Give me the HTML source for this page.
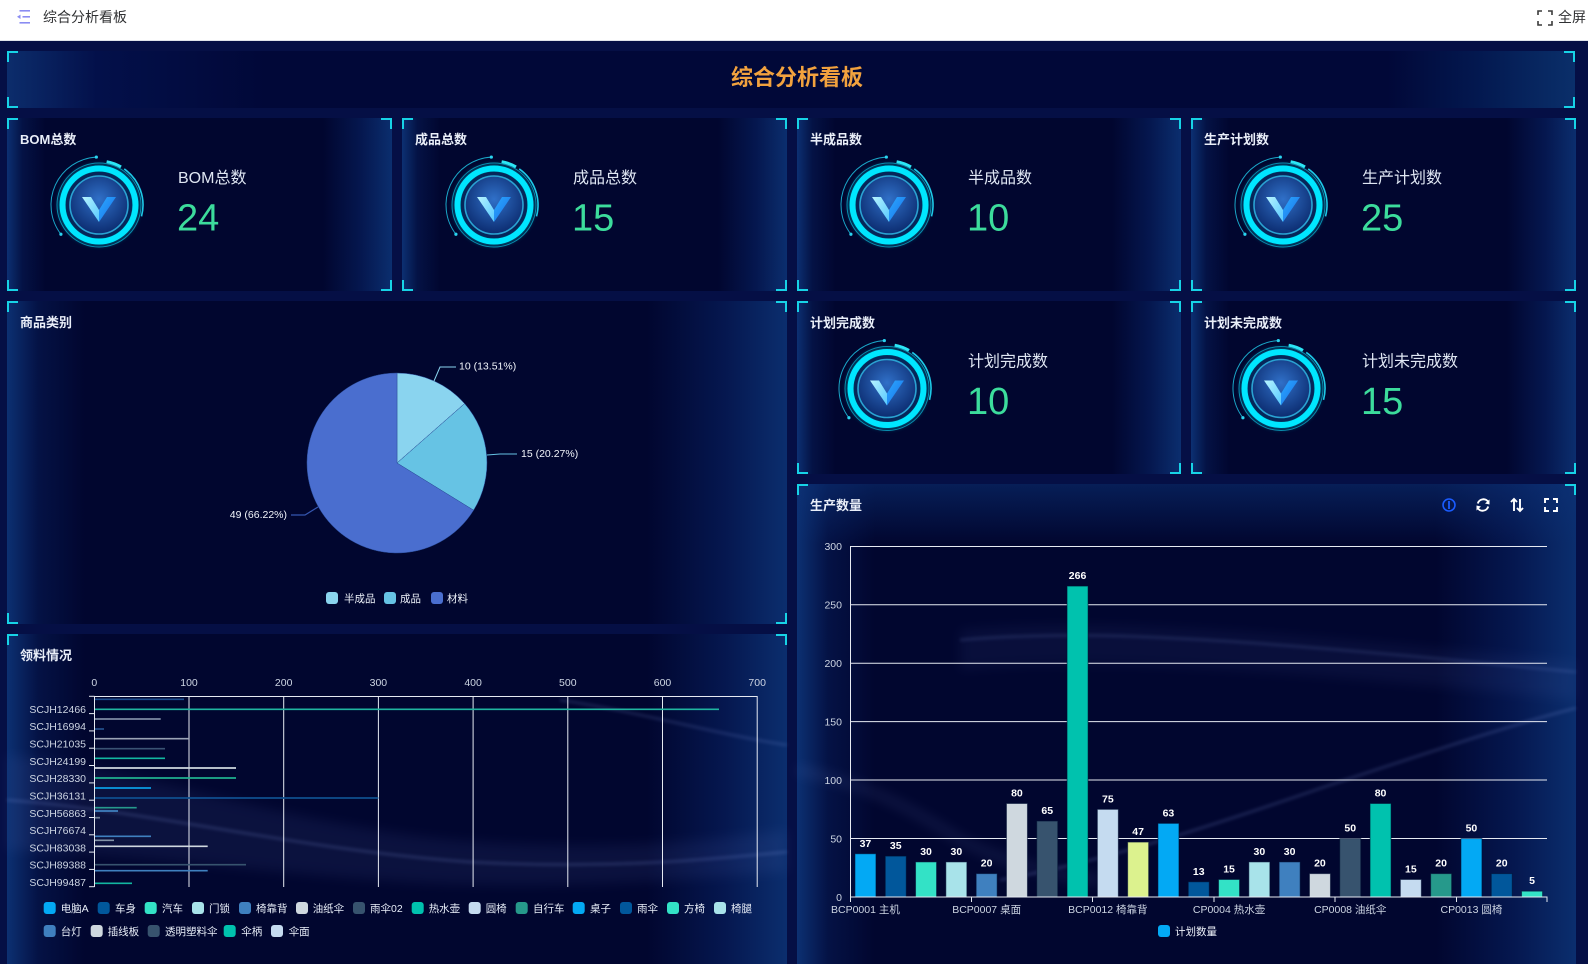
<!DOCTYPE html>
<html><head><meta charset="utf-8"><title>综合分析看板</title>
<style>
*{margin:0;padding:0;box-sizing:border-box}
body{width:1588px;height:949px;overflow:hidden;background:#050f45;font-family:"Liberation Sans","Noto Sans CJK SC",sans-serif;position:relative}
.top{position:absolute;left:0;top:0;width:1588px;height:41px;background:#fff;border-bottom:1px solid #dfe3ea}
.top .ttl{position:absolute;left:43px;top:8px;font-size:14px;line-height:18px;color:#303133}
.top .fs{position:absolute;left:1558px;top:8px;font-size:14px;line-height:18px;color:#303133}
.card{position:absolute;background:linear-gradient(90deg,#0c3072 0%,#041245 4%,#01062f 10%,#01062f 82%,#05174f 92%,#0b2e6e 100%)}
.c{position:absolute;width:11px;height:11px;border:0 solid #17d3e6}
.tl{left:0;top:0;border-left-width:2px;border-top-width:2px}
.tr{right:0;top:0;border-right-width:2px;border-top-width:2px}
.bl{left:0;bottom:0;border-left-width:2px;border-bottom-width:2px}
.br{right:0;bottom:0;border-right-width:2px;border-bottom-width:2px}
svg{position:absolute;left:0;top:0}
text{font-family:"Liberation Sans","Noto Sans CJK SC",sans-serif}
</style></head><body>

<div class="top">
  <svg width="40" height="40" style="left:0;top:0">
    <rect x="19.5" y="10" width="10.5" height="1.6" fill="#8a8cf2"/>
    <rect x="22.5" y="16" width="7.5" height="1.6" fill="#8a8cf2"/>
    <polygon points="17,16.8 20.5,14.6 20.5,19" fill="#8a8cf2"/>
    <rect x="19.5" y="22" width="10.5" height="1.6" fill="#8a8cf2"/>
  </svg>
  <div class="ttl">综合分析看板</div>
  <svg width="20" height="40" style="left:1535px;top:0">
    <path d="M3,15 V11 H7 M13,11 H17 V15 M17,21 V25 H13 M7,25 H3 V21" fill="none" stroke="#3a3a3a" stroke-width="1.6"/>
  </svg>
  <div class="fs">全屏</div>
</div>

<!-- title panel -->
<div class="card" style="left:7px;top:51px;width:1568px;height:57px;background:linear-gradient(90deg,#0c2d6c 0,#03104a 90px,#010838 260px,#010838 1380px,#03184f 1470px,#0a2f6a 100%)">
  <div class="c tl"></div><div class="c tr"></div><div class="c bl"></div><div class="c br"></div>
</div>

<!-- row 1 -->
<div class="card" style="left:7px;top:118px;width:385px;height:173px"><div class="c tl"></div><div class="c tr"></div><div class="c bl"></div><div class="c br"></div></div>
<div class="card" style="left:402px;top:118px;width:385px;height:173px"><div class="c tl"></div><div class="c tr"></div><div class="c bl"></div><div class="c br"></div></div>
<div class="card" style="left:797px;top:118px;width:384px;height:173px"><div class="c tl"></div><div class="c tr"></div><div class="c bl"></div><div class="c br"></div></div>
<div class="card" style="left:1191px;top:118px;width:385px;height:173px"><div class="c tl"></div><div class="c tr"></div><div class="c bl"></div><div class="c br"></div></div>

<!-- row 2 -->
<div class="card" style="left:7px;top:301px;width:780px;height:323px"><div class="c tl"></div><div class="c tr"></div><div class="c bl"></div><div class="c br"></div></div>
<div class="card" style="left:797px;top:301px;width:384px;height:173px"><div class="c tl"></div><div class="c tr"></div><div class="c bl"></div><div class="c br"></div></div>
<div class="card" style="left:1191px;top:301px;width:385px;height:173px"><div class="c tl"></div><div class="c tr"></div><div class="c bl"></div><div class="c br"></div></div>

<!-- row 3 -->
<div class="card" style="left:7px;top:634px;width:780px;height:330px"><div class="c tl"></div><div class="c tr"></div></div>
<div class="card" style="left:797px;top:484px;width:779px;height:480px;background:linear-gradient(180deg,rgba(12,50,120,.55) 0,rgba(12,50,120,0) 60px),linear-gradient(90deg,#0c3072 0%,#041245 4%,#01062f 10%,#01062f 82%,#05174f 92%,#0b2e6e 100%)"><div class="c tl"></div><div class="c tr"></div></div>

<!-- waves -->
<svg width="1588" height="949">
  <defs>
    <filter id="bl" x="-10%" y="-50%" width="120%" height="200%"><feGaussianBlur stdDeviation="6"/></filter>
    <filter id="bl2" x="-10%" y="-50%" width="120%" height="200%"><feGaussianBlur stdDeviation="1.5"/></filter>
  </defs>
  <path d="M7,755 C150,770 300,830 480,842 C630,852 720,838 787,830 L787,872 C700,878 600,888 450,884 C300,878 150,855 7,850 Z" fill="#6f86d8" opacity="0.09" filter="url(#bl)"/>
  <path d="M7,800 C160,812 300,850 470,862 C620,870 720,858 787,852" fill="none" stroke="#8fa4ee" stroke-width="3" opacity="0.18" filter="url(#bl2)"/>
  <path d="M560,700 C640,712 720,735 787,745" fill="none" stroke="#8fa4ee" stroke-width="3" opacity="0.16" filter="url(#bl2)"/>
  <path d="M797,770 C850,780 900,800 960,840 C1000,860 1050,875 1100,880" fill="none" stroke="#8fa4ee" stroke-width="8" opacity="0.12" filter="url(#bl)"/>
  <path d="M1000,880 C1100,862 1200,830 1330,785 C1430,752 1510,725 1576,708" fill="none" stroke="#8fa4ee" stroke-width="3" opacity="0.18" filter="url(#bl2)"/>
  <path d="M960,640 C1100,628 1250,640 1576,672" fill="none" stroke="#8fa4ee" stroke-width="3" opacity="0.14" filter="url(#bl2)"/>
  <path d="M960,630 C1100,618 1250,630 1576,662 L1576,700 C1300,672 1100,655 960,670 Z" fill="#6f86d8" opacity="0.07" filter="url(#bl)"/>
</svg>

<!-- content -->
<svg width="1588" height="949">
  <defs>
    <radialGradient id="gIn" cx="50%" cy="40%" r="60%">
      <stop offset="0" stop-color="#3070c8"/><stop offset="1" stop-color="#0c2c70"/>
    </radialGradient>
    <linearGradient id="vL" x1="0" y1="0" x2="1" y2="1"><stop offset="0" stop-color="#b8f4ff"/><stop offset="1" stop-color="#57c9ff"/></linearGradient>
    <linearGradient id="vR" x1="0" y1="0" x2="1" y2="1"><stop offset="0" stop-color="#2aa8ff"/><stop offset="1" stop-color="#1a6fe8"/></linearGradient>
    <filter id="glow" x="-30%" y="-30%" width="160%" height="160%"><feGaussianBlur stdDeviation="2"/></filter>
    <symbol id="kpi" viewBox="-50 -50 100 100">
      <circle r="42" fill="none" stroke="#0c8fb0" stroke-width="1" opacity="0.9"/>
      <path d="M-38.08,29.22 A48,48 0 0 1 -2.68,-47.93" fill="none" stroke="#1aa7c8" stroke-width="1"/>
      <circle cx="-38.08" cy="29.22" r="1.6" fill="#2ad4f0"/>
      <circle cx="-2.68" cy="-47.93" r="1.6" fill="#2ad4f0"/>
      <path d="M7.64,-43.33 A44,44 0 0 1 22,-38.1" fill="none" stroke="#2ee6f5" stroke-width="3"/>
      <path d="M25.24,-36.04 A44,44 0 0 1 42.5,11.39" fill="none" stroke="#1fc8e6" stroke-width="1.6"/>
      <circle r="36.5" fill="none" stroke="#00e8ff" stroke-width="9" opacity="0.35" filter="url(#glow)"/>
      <circle r="33" fill="#06265a"/>
      <circle r="36.5" fill="none" stroke="#00e6ff" stroke-width="6"/>
      <circle r="29" fill="url(#gIn)" stroke="#2aa2d2" stroke-width="1.6"/>
      <polygon points="-17,-8 -8,-8 0,5 0,17" fill="url(#vL)"/>
      <polygon points="0,17 0,5 8,-8 17,-8" fill="url(#vR)"/>
    </symbol>
  </defs>

  <!-- main title -->
  <text x="797" y="85" text-anchor="middle" font-size="22" font-weight="bold" fill="#f2a23e">综合分析看板</text>

  <!-- KPI cards -->
  <g fill="#e9eef8" font-size="13" font-weight="bold">
    <text x="20" y="143.8">BOM总数</text>
    <text x="415" y="143.8">成品总数</text>
    <text x="810" y="143.8">半成品数</text>
    <text x="1204" y="143.8">生产计划数</text>
    <text x="810" y="327.3">计划完成数</text>
    <text x="1204" y="327.3">计划未完成数</text>
    <text x="20" y="327">商品类别</text>
    <text x="20" y="660">领料情况</text>
    <text x="810" y="510">生产数量</text>
  </g>
  <use href="#kpi" x="49" y="155" width="100" height="100"/>
  <use href="#kpi" x="444" y="155" width="100" height="100"/>
  <use href="#kpi" x="839" y="155" width="100" height="100"/>
  <use href="#kpi" x="1233" y="155" width="100" height="100"/>
  <use href="#kpi" x="837" y="338.5" width="100" height="100"/>
  <use href="#kpi" x="1231" y="338.5" width="100" height="100"/>
  <g fill="#dfe6f3" font-size="16">
    <text x="178" y="183">BOM总数</text>
    <text x="573" y="183">成品总数</text>
    <text x="968" y="183">半成品数</text>
    <text x="1362" y="183">生产计划数</text>
    <text x="968" y="366.5">计划完成数</text>
    <text x="1362" y="366.5">计划未完成数</text>
  </g>
  <g fill="#3cdc9c" font-size="38">
    <text x="177" y="230.6">24</text>
    <text x="572" y="230.6">15</text>
    <text x="967" y="230.6">10</text>
    <text x="1361" y="230.6">25</text>
    <text x="967" y="414">10</text>
    <text x="1361" y="414">15</text>
  </g>

  <!-- pie -->
  <path d="M397,463 L397,373 A90,90 0 0 1 464.6,403.6 Z" fill="#8ad4ef" stroke="#2a4d9a" stroke-width="0.5"/>
  <path d="M397,463 L464.6,403.6 A90,90 0 0 1 473.6,510.2 Z" fill="#66c3e4" stroke="#2a4d9a" stroke-width="0.5"/>
  <path d="M397,463 L473.6,510.2 A90,90 0 1 1 397,373 Z" fill="#4a6ecf" stroke="#2a4d9a" stroke-width="0.5"/>
  <polyline points="434,381 440,367 456,367" fill="none" stroke="#8ad4ef" stroke-width="1"/>
  <polyline points="487,455 500,454 517,454" fill="none" stroke="#66c3e4" stroke-width="1"/>
  <polyline points="318,507 305,515 291,515" fill="none" stroke="#3556b0" stroke-width="1.2"/>
  <g fill="#f2f5fb" font-size="10.5">
    <text x="459" y="369.5">10 (13.51%)</text>
    <text x="521" y="457">15 (20.27%)</text>
    <text x="287" y="518" text-anchor="end">49 (66.22%)</text>
  </g>
  <rect x="326" y="592" width="12" height="12" rx="3" fill="#8ad4ef"/>
  <rect x="384" y="592" width="12" height="12" rx="3" fill="#66c3e4"/>
  <rect x="431" y="592" width="12" height="12" rx="3" fill="#4a6ecf"/>
  <g fill="#eef2fa" font-size="10.5">
    <text x="344" y="602">半成品</text>
    <text x="400" y="602">成品</text>
    <text x="447" y="602">材料</text>
  </g>

  <!-- horizontal bar chart -->
  <g stroke="#e6eaf2" stroke-width="1">
    <line x1="94.3" y1="696.5" x2="757.2" y2="696.5"/>
    <line x1="94.5" y1="696" x2="94.5" y2="887"/>
    <line x1="189" y1="696" x2="189" y2="887"/>
    <line x1="283.7" y1="696" x2="283.7" y2="887"/>
    <line x1="378.4" y1="696" x2="378.4" y2="887"/>
    <line x1="473.1" y1="696" x2="473.1" y2="887"/>
    <line x1="567.8" y1="696" x2="567.8" y2="887"/>
    <line x1="662.5" y1="696" x2="662.5" y2="887"/>
    <line x1="757.2" y1="696" x2="757.2" y2="887"/>
    <line x1="89" y1="696.3" x2="94.5" y2="696.3"/>
    <line x1="89" y1="713.6" x2="94.5" y2="713.6"/>
    <line x1="89" y1="730.9" x2="94.5" y2="730.9"/>
    <line x1="89" y1="748.2" x2="94.5" y2="748.2"/>
    <line x1="89" y1="765.5" x2="94.5" y2="765.5"/>
    <line x1="89" y1="782.9" x2="94.5" y2="782.9"/>
    <line x1="89" y1="800.2" x2="94.5" y2="800.2"/>
    <line x1="89" y1="817.5" x2="94.5" y2="817.5"/>
    <line x1="89" y1="834.8" x2="94.5" y2="834.8"/>
    <line x1="89" y1="852.1" x2="94.5" y2="852.1"/>
    <line x1="89" y1="869.4" x2="94.5" y2="869.4"/>
    <line x1="89" y1="886.7" x2="94.5" y2="886.7"/>
  </g>
  <g fill="#cdd5e3" font-size="10.5" text-anchor="middle">
    <text x="94.3" y="686">0</text>
    <text x="189" y="686">100</text>
    <text x="283.7" y="686">200</text>
    <text x="378.4" y="686">300</text>
    <text x="473.1" y="686">400</text>
    <text x="567.8" y="686">500</text>
    <text x="662.5" y="686">600</text>
    <text x="757.2" y="686">700</text>
  </g>
  <g fill="#cdd5e3" font-size="10.5" text-anchor="end">
    <text x="86" y="712.9">SCJH12466</text>
    <text x="86" y="730.2">SCJH16994</text>
    <text x="86" y="747.5">SCJH21035</text>
    <text x="86" y="764.8">SCJH24199</text>
    <text x="86" y="782.2">SCJH28330</text>
    <text x="86" y="799.5">SCJH36131</text>
    <text x="86" y="816.8">SCJH56863</text>
    <text x="86" y="834.1">SCJH76674</text>
    <text x="86" y="851.4">SCJH83038</text>
    <text x="86" y="868.7">SCJH89388</text>
    <text x="86" y="886">SCJH99487</text>
  </g>
  <g stroke-width="1.7">
    <line x1="95" y1="699.3" x2="184" y2="699.3" stroke="#1d4d8e"/>
    <line x1="95" y1="709.3" x2="719" y2="709.3" stroke="#1fb5a0"/>
    <line x1="95" y1="719" x2="160.7" y2="719" stroke="#7d8ba3"/>
    <line x1="95" y1="729" x2="104" y2="729" stroke="#244f8c"/>
    <line x1="95" y1="738.7" x2="188.3" y2="738.7" stroke="#9aa3b5"/>
    <line x1="95" y1="748.7" x2="165" y2="748.7" stroke="#3a5373"/>
    <line x1="95" y1="758.3" x2="165" y2="758.3" stroke="#12b6a0"/>
    <line x1="95" y1="768" x2="236" y2="768" stroke="#cfd8df"/>
    <line x1="95" y1="778" x2="236" y2="778" stroke="#1fb08f"/>
    <line x1="95" y1="788" x2="151" y2="788" stroke="#0a9de3"/>
    <line x1="95" y1="798" x2="378.3" y2="798" stroke="#0f4f8f"/>
    <line x1="95" y1="807.7" x2="136.7" y2="807.7" stroke="#26998b"/>
    <line x1="95" y1="811" x2="118" y2="811" stroke="#3f80bf"/>
    <line x1="95" y1="817.7" x2="100" y2="817.7" stroke="#6f7f92"/>
    <line x1="95" y1="836.3" x2="151" y2="836.3" stroke="#3f80bf"/>
    <line x1="95" y1="840.3" x2="114" y2="840.3" stroke="#8494a8"/>
    <line x1="95" y1="846.3" x2="207.7" y2="846.3" stroke="#cfd8df"/>
    <line x1="95" y1="864.7" x2="246" y2="864.7" stroke="#37536e"/>
    <line x1="95" y1="870.7" x2="207.7" y2="870.7" stroke="#3f80bf"/>
    <line x1="95" y1="883.3" x2="132" y2="883.3" stroke="#12b6a0"/>
  </g>
  <!-- legend rows -->
  <g>
    <rect x="43.7" y="902" width="12" height="12" rx="3" fill="#03a9f4"/>
    <rect x="97.7" y="902" width="12" height="12" rx="3" fill="#01579b"/>
    <rect x="144.7" y="902" width="12" height="12" rx="3" fill="#33e2c6"/>
    <rect x="192" y="902" width="12" height="12" rx="3" fill="#a8e3ea"/>
    <rect x="239" y="902" width="12" height="12" rx="3" fill="#3f80bf"/>
    <rect x="296" y="902" width="12" height="12" rx="3" fill="#cfd8df"/>
    <rect x="353" y="902" width="12" height="12" rx="3" fill="#37536e"/>
    <rect x="411.7" y="902" width="12" height="12" rx="3" fill="#00c2ae"/>
    <rect x="468.7" y="902" width="12" height="12" rx="3" fill="#c5dbf0"/>
    <rect x="515.7" y="902" width="12" height="12" rx="3" fill="#26998b"/>
    <rect x="572.7" y="902" width="12" height="12" rx="3" fill="#03a9f4"/>
    <rect x="620" y="902" width="12" height="12" rx="3" fill="#01579b"/>
    <rect x="667" y="902" width="12" height="12" rx="3" fill="#33e2c6"/>
    <rect x="714" y="902" width="12" height="12" rx="3" fill="#a8e3ea"/>
    <rect x="43.7" y="925" width="12" height="12" rx="3" fill="#3f80bf"/>
    <rect x="90.7" y="925" width="12" height="12" rx="3" fill="#cfd8df"/>
    <rect x="147.7" y="925" width="12" height="12" rx="3" fill="#37536e"/>
    <rect x="223.7" y="925" width="12" height="12" rx="3" fill="#00c2ae"/>
    <rect x="271" y="925" width="12" height="12" rx="3" fill="#c5dbf0"/>
  </g>
  <g fill="#e8eef8" font-size="10.5">
    <text x="60.7" y="912">电脑A</text>
    <text x="115" y="912">车身</text>
    <text x="162" y="912">汽车</text>
    <text x="209" y="912">门锁</text>
    <text x="256" y="912">椅靠背</text>
    <text x="312.7" y="912">油纸伞</text>
    <text x="370" y="912">雨伞02</text>
    <text x="428.7" y="912">热水壶</text>
    <text x="485.7" y="912">圆椅</text>
    <text x="533" y="912">自行车</text>
    <text x="590" y="912">桌子</text>
    <text x="637" y="912">雨伞</text>
    <text x="684" y="912">方椅</text>
    <text x="731" y="912">椅腿</text>
    <text x="60.7" y="935">台灯</text>
    <text x="107.7" y="935">插线板</text>
    <text x="165" y="935">透明塑料伞</text>
    <text x="241.3" y="935">伞柄</text>
    <text x="288.7" y="935">伞面</text>
  </g>

  <!-- vertical bar chart -->
  <g stroke="#e6eaf2" stroke-width="1">
    <line x1="850" y1="546.5" x2="1547" y2="546.5"/>
    <line x1="850" y1="604.8" x2="1547" y2="604.8"/>
    <line x1="850" y1="663.2" x2="1547" y2="663.2"/>
    <line x1="850" y1="721.6" x2="1547" y2="721.6"/>
    <line x1="850" y1="780" x2="1547" y2="780"/>
    <line x1="850" y1="838.5" x2="1547" y2="838.5"/>
    <line x1="850.5" y1="546" x2="850.5" y2="897"/>
  </g>
  <g fill="#cdd5e3" font-size="10.5" text-anchor="end">
    <text x="842" y="900.8">0</text>
    <text x="842" y="842.3">50</text>
    <text x="842" y="783.8">100</text>
    <text x="842" y="725.4">150</text>
    <text x="842" y="667">200</text>
    <text x="842" y="608.6">250</text>
    <text x="842" y="550.1">300</text>
  </g>
  <g stroke="rgba(0,15,50,0.55)" stroke-width="1">
    <rect x="854.95" y="853.75" width="21" height="43.25" fill="#03a9f4"/>
    <rect x="885.25" y="856.09" width="21" height="40.91" fill="#01579b"/>
    <rect x="915.55" y="861.93" width="21" height="35.07" fill="#33e2c6"/>
    <rect x="945.85" y="861.93" width="21" height="35.07" fill="#a8e3ea"/>
    <rect x="976.15" y="873.62" width="21" height="23.38" fill="#3f80bf"/>
    <rect x="1006.45" y="803.49" width="21" height="93.51" fill="#cfd8df"/>
    <rect x="1036.75" y="821.02" width="21" height="75.98" fill="#37536e"/>
    <rect x="1067.05" y="586.07" width="21" height="310.93" fill="#00c2ae"/>
    <rect x="1097.35" y="809.33" width="21" height="87.67" fill="#c5dbf0"/>
    <rect x="1127.65" y="842.06" width="21" height="54.94" fill="#dcf28e"/>
    <rect x="1157.95" y="823.36" width="21" height="73.64" fill="#03a9f4"/>
    <rect x="1188.25" y="881.8" width="21" height="15.2" fill="#01579b"/>
    <rect x="1218.55" y="879.47" width="21" height="17.53" fill="#33e2c6"/>
    <rect x="1248.85" y="861.93" width="21" height="35.07" fill="#a8e3ea"/>
    <rect x="1279.15" y="861.93" width="21" height="35.07" fill="#3f80bf"/>
    <rect x="1309.45" y="873.62" width="21" height="23.38" fill="#cfd8df"/>
    <rect x="1339.75" y="838.55" width="21" height="58.45" fill="#37536e"/>
    <rect x="1370.05" y="803.49" width="21" height="93.51" fill="#00c2ae"/>
    <rect x="1400.35" y="879.47" width="21" height="17.53" fill="#c5dbf0"/>
    <rect x="1430.65" y="873.62" width="21" height="23.38" fill="#26998b"/>
    <rect x="1460.95" y="838.55" width="21" height="58.45" fill="#03a9f4"/>
    <rect x="1491.25" y="873.62" width="21" height="23.38" fill="#01579b"/>
    <rect x="1521.55" y="891.16" width="21" height="5.84" fill="#33e2c6"/>
  </g>
  <g stroke="#e6eaf2" stroke-width="1">
    <line x1="850" y1="897" x2="1547.5" y2="897"/>
    <line x1="850.5" y1="897" x2="850.5" y2="902"/>
    <line x1="971.5" y1="897" x2="971.5" y2="902"/>
    <line x1="1092.5" y1="897" x2="1092.5" y2="902"/>
    <line x1="1214" y1="897" x2="1214" y2="902"/>
    <line x1="1335" y1="897" x2="1335" y2="902"/>
    <line x1="1456.5" y1="897" x2="1456.5" y2="902"/>
    <line x1="1547" y1="897" x2="1547" y2="902"/>
  </g>
  <g fill="#ffffff" font-size="10.5" font-weight="bold" text-anchor="middle">
    <text x="865.45" y="846.75">37</text>
    <text x="895.75" y="849.09">35</text>
    <text x="926.05" y="854.93">30</text>
    <text x="956.35" y="854.93">30</text>
    <text x="986.65" y="866.62">20</text>
    <text x="1016.95" y="796.49">80</text>
    <text x="1047.25" y="814.02">65</text>
    <text x="1077.55" y="579.07">266</text>
    <text x="1107.85" y="802.33">75</text>
    <text x="1138.15" y="835.06">47</text>
    <text x="1168.45" y="816.36">63</text>
    <text x="1198.75" y="874.8">13</text>
    <text x="1229.05" y="872.47">15</text>
    <text x="1259.35" y="854.93">30</text>
    <text x="1289.65" y="854.93">30</text>
    <text x="1319.95" y="866.62">20</text>
    <text x="1350.25" y="831.55">50</text>
    <text x="1380.55" y="796.49">80</text>
    <text x="1410.85" y="872.47">15</text>
    <text x="1441.15" y="866.62">20</text>
    <text x="1471.45" y="831.55">50</text>
    <text x="1501.75" y="866.62">20</text>
    <text x="1532.05" y="884.16">5</text>
  </g>
  <g fill="#cdd5e3" font-size="10.5" text-anchor="middle">
    <text x="865.45" y="913">BCP0001 主机</text>
    <text x="986.65" y="913">BCP0007 桌面</text>
    <text x="1107.85" y="913">BCP0012 椅靠背</text>
    <text x="1229.05" y="913">CP0004 热水壶</text>
    <text x="1350.25" y="913">CP0008 油纸伞</text>
    <text x="1471.45" y="913">CP0013 圆椅</text>
  </g>
  <rect x="1158" y="925" width="12" height="12" rx="3" fill="#03a9f4"/>
  <text x="1175" y="935" fill="#eef2fa" font-size="10.5">计划数量</text>

  <!-- toolbar -->
  <circle cx="1449" cy="505" r="6" fill="none" stroke="#1a5cff" stroke-width="1.6"/>
  <line x1="1449" y1="501" x2="1449" y2="509" stroke="#1a5cff" stroke-width="1.8"/>
  <g fill="none" stroke="#ffffff" stroke-width="1.9">
    <path d="M1477.8,503.5 A5.8,5.8 0 0 1 1488.6,502.5"/>
    <path d="M1488.2,506.5 A5.8,5.8 0 0 1 1477.4,507.5"/>
    <path d="M1514,511 V499 M1511,502 L1514,499 L1517,502"/>
    <path d="M1520,499 V511 M1517,508 L1520,511 L1523,508"/>
    <path d="M1545,503 V499 H1549 M1553,499 H1557 V503 M1557,507 V511 H1553 M1549,511 H1545 V507"/>
  </g>
  <polygon points="1489.5,499.5 1489.5,504.5 1485,503.5" fill="#ffffff"/>
  <polygon points="1476.5,510.5 1476.5,505.5 1481,506.5" fill="#ffffff"/>
</svg>
</body></html>
